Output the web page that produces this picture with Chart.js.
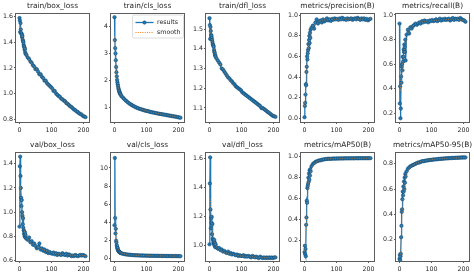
<!DOCTYPE html>
<html>
<head>
<meta charset="utf-8">
<script src="https://cdn.jsdelivr.net/npm/chart.js@4.4.1/dist/chart.umd.min.js"></script>
<style>
  html, body { margin: 0; padding: 0; background: #fff; }
  #grid { position: relative; width: 474px; height: 278px; overflow: hidden; }
  #grid canvas { position: absolute; }
</style>
</head>
<body>
<div id="grid"></div>
<script>
// epochs sampled along the x axis (every epoch early on, then every 4)
const epochs = [0, 1, 2, 3, 4, 5, 6, 7, 8, 9, 10, 11, 12, 13, 14, 15, 16, 17, 18, 19,
  22, 26, 30, 34, 38, 42, 46, 50, 54, 58,
  62, 66, 70, 74, 78, 82, 86, 90, 94, 98,
  102, 106, 110, 114, 118, 122, 126, 130, 134, 138,
  142, 146, 150, 154, 158, 162, 166, 170, 174, 178,
  182, 186, 190, 194, 198, 202, 206];
const smoothEpochs = [0, 2, 4, 6, 8, 10, 13, 16, 20, 26, 34, 45, 60, 80, 110, 140, 170, 206];

const titles = ["train/box_loss", "train/cls_loss", "train/dfl_loss", "metrics/precision(B)", "metrics/recall(B)",
  "val/box_loss", "val/cls_loss", "val/dfl_loss", "metrics/mAP50(B)", "metrics/mAP50-95(B)"];

const trainBox = [1.59, 1.57, 1.48, 1.55, 1.50, 1.47, 1.47, 1.46, 1.44, 1.45, 1.42, 1.41, 1.40, 1.38, 1.37, 1.36, 1.34, 1.35, 1.32, 1.31,
  1.30, 1.28, 1.27, 1.25, 1.24, 1.22, 1.21, 1.19, 1.19, 1.17,
  1.15, 1.15, 1.13, 1.12, 1.10, 1.10, 1.08, 1.07, 1.06, 1.05,
  1.04, 1.02, 1.02, 1.00, 0.99, 0.98, 0.975, 0.96, 0.955, 0.945,
  0.94, 0.925, 0.92, 0.91, 0.90, 0.895, 0.885, 0.875, 0.87, 0.86,
  0.855, 0.845, 0.84, 0.835, 0.825, 0.82, 0.815];
const trainCls = [4.35, 3.50, 3.20, 3.00, 2.75, 2.50, 2.30, 2.15, 2.02, 1.93, 1.85, 1.79, 1.72, 1.67, 1.62, 1.58, 1.55, 1.52, 1.49, 1.47,
  1.41, 1.36, 1.31, 1.26, 1.22, 1.18, 1.14, 1.11, 1.08, 1.05,
  1.03, 1.00, 0.98, 0.96, 0.94, 0.93, 0.91, 0.90, 0.88, 0.87,
  0.86, 0.85, 0.83, 0.82, 0.81, 0.80, 0.79, 0.78, 0.77, 0.76,
  0.75, 0.745, 0.735, 0.725, 0.72, 0.71, 0.70, 0.69, 0.685, 0.675,
  0.665, 0.66, 0.65, 0.64, 0.63, 0.62, 0.61];
const trainDfl = [1.555, 1.52, 1.45, 1.51, 1.49, 1.47, 1.465, 1.455, 1.445, 1.435, 1.425, 1.42, 1.415, 1.41, 1.395, 1.385, 1.38, 1.37, 1.365, 1.36,
  1.35, 1.34, 1.33, 1.32, 1.30, 1.295, 1.285, 1.275, 1.265, 1.255,
  1.25, 1.24, 1.235, 1.225, 1.22, 1.21, 1.205, 1.20, 1.195, 1.19,
  1.18, 1.175, 1.17, 1.165, 1.16, 1.155, 1.15, 1.145, 1.14, 1.135,
  1.13, 1.125, 1.12, 1.115, 1.11, 1.10, 1.10, 1.095, 1.09, 1.085,
  1.08, 1.075, 1.07, 1.065, 1.06, 1.058, 1.055];
const precision = [0.01, 0.12, 0.15, 0.23, 0.33, 0.32, 0.45, 0.50, 0.60, 0.57, 0.63, 0.66, 0.72, 0.68, 0.76, 0.80, 0.73, 0.83, 0.78, 0.86,
  0.88, 0.90, 0.87, 0.93, 0.96, 0.92, 0.94, 0.95, 0.93, 0.96,
  0.94, 0.95, 0.97, 0.95, 0.96, 0.945, 0.965, 0.955, 0.97, 0.96,
  0.965, 0.955, 0.97, 0.96, 0.975, 0.96, 0.965, 0.955, 0.97, 0.96,
  0.965, 0.97, 0.955, 0.965, 0.97, 0.96, 0.975, 0.965, 0.955, 0.97,
  0.96, 0.97, 0.955, 0.965, 0.95, 0.96, 0.965];
const recall = [0.93, 0.28, 0.42, 0.16, 0.24, 0.50, 0.45, 0.58, 0.60, 0.55, 0.66, 0.62, 0.66, 0.72, 0.70, 0.76, 0.74, 0.70, 0.80, 0.63,
  0.84, 0.88, 0.85, 0.90, 0.89, 0.91, 0.92, 0.93, 0.92, 0.93,
  0.94, 0.93, 0.95, 0.94, 0.955, 0.945, 0.95, 0.94, 0.955, 0.95,
  0.96, 0.95, 0.955, 0.965, 0.95, 0.96, 0.97, 0.955, 0.965, 0.96,
  0.97, 0.96, 0.965, 0.97, 0.955, 0.965, 0.975, 0.96, 0.97, 0.965,
  0.97, 0.96, 0.975, 0.965, 0.96, 0.955, 0.945];
const valBox = [0.88, 1.38, 1.46, 1.30, 1.20, 1.12, 1.05, 1.10, 1.00, 0.97, 0.90, 0.95, 0.87, 0.85, 0.82, 0.84, 0.80, 0.83, 0.79, 0.81,
  0.78, 0.77, 0.79, 0.75, 0.76, 0.73, 0.74, 0.72, 0.70, 0.71,
  0.74, 0.69, 0.70, 0.68, 0.69, 0.67, 0.68, 0.66, 0.67, 0.66,
  0.655, 0.665, 0.65, 0.66, 0.645, 0.655, 0.65, 0.645, 0.66, 0.65,
  0.645, 0.655, 0.64, 0.65, 0.645, 0.635, 0.64, 0.635, 0.645, 0.64,
  0.635, 0.64, 0.645, 0.64, 0.645, 0.64, 0.635];
const valCls = [3.7, 11.1, 4.5, 2.8, 3.3, 2.0, 1.8, 1.5, 1.3, 1.1, 1.2, 0.95, 0.90, 0.85, 0.80, 0.75, 0.72, 0.70, 0.68, 0.65,
  0.60, 0.56, 0.53, 0.50, 0.48, 0.46, 0.45, 0.43, 0.42, 0.41,
  0.40, 0.39, 0.39, 0.38, 0.37, 0.37, 0.36, 0.36, 0.35, 0.35,
  0.35, 0.34, 0.34, 0.34, 0.33, 0.33, 0.33, 0.32, 0.33, 0.32,
  0.32, 0.32, 0.31, 0.32, 0.31, 0.31, 0.31, 0.31, 0.30, 0.31,
  0.30, 0.30, 0.31, 0.30, 0.30, 0.29, 0.30];
const valDfl = [1.01, 1.43, 1.61, 1.25, 1.12, 1.19, 1.16, 1.20, 1.08, 1.15, 1.05, 1.04, 1.02, 1.03, 1.01, 1.04, 1.00, 1.02, 0.99, 1.01,
  0.99, 0.98, 0.985, 0.97, 0.975, 0.96, 0.965, 0.955, 0.95, 0.96,
  0.945, 0.95, 0.94, 0.945, 0.94, 0.935, 0.94, 0.93, 0.935, 0.93,
  0.93, 0.935, 0.925, 0.93, 0.925, 0.93, 0.925, 0.92, 0.93, 0.925,
  0.92, 0.925, 0.92, 0.915, 0.925, 0.92, 0.915, 0.92, 0.915, 0.92,
  0.915, 0.92, 0.915, 0.92, 0.915, 0.92, 0.92];
const map50 = [0.09, 0.15, 0.07, 0.12, 0.05, 0.35, 0.42, 0.58, 0.56, 0.70, 0.72, 0.74, 0.80, 0.76, 0.84, 0.78, 0.87, 0.82, 0.88, 0.86,
  0.91, 0.93, 0.94, 0.95, 0.955, 0.96, 0.965, 0.965, 0.97, 0.972,
  0.975, 0.977, 0.978, 0.98, 0.98, 0.979, 0.981, 0.982, 0.981, 0.982,
  0.983, 0.982, 0.984, 0.983, 0.984, 0.983, 0.985, 0.984, 0.984, 0.985,
  0.984, 0.985, 0.985, 0.984, 0.985, 0.986, 0.985, 0.985, 0.986, 0.985,
  0.986, 0.985, 0.986, 0.986, 0.985, 0.986, 0.986];
const map5095 = [0.05, 0.08, 0.04, 0.07, 0.09, 0.22, 0.31, 0.42, 0.44, 0.52, 0.58, 0.55, 0.62, 0.58, 0.66, 0.60, 0.69, 0.65, 0.72, 0.70,
  0.74, 0.76, 0.77, 0.78, 0.785, 0.79, 0.795, 0.80, 0.805, 0.81,
  0.81, 0.815, 0.82, 0.82, 0.822, 0.825, 0.826, 0.828, 0.83, 0.83,
  0.832, 0.833, 0.835, 0.835, 0.836, 0.838, 0.838, 0.84, 0.84, 0.841,
  0.842, 0.843, 0.843, 0.844, 0.845, 0.845, 0.846, 0.846, 0.847, 0.847,
  0.848, 0.848, 0.849, 0.849, 0.85, 0.85, 0.85];

// the dotted "smooth" trend, read at fewer epochs
const trainBoxSmooth = [1.54, 1.52, 1.50, 1.47, 1.45, 1.43, 1.39, 1.36, 1.32, 1.28, 1.25, 1.21, 1.16, 1.10, 1.01, 0.94, 0.875, 0.82];
const trainClsSmooth = [3.6, 3.25, 2.8, 2.35, 2.05, 1.87, 1.68, 1.56, 1.45, 1.36, 1.26, 1.15, 1.03, 0.94, 0.83, 0.76, 0.695, 0.61];
const trainDflSmooth = [1.52, 1.50, 1.48, 1.465, 1.445, 1.43, 1.41, 1.385, 1.36, 1.34, 1.32, 1.29, 1.25, 1.20, 1.165, 1.13, 1.095, 1.055];
const precisionSmooth = [0.12, 0.2, 0.31, 0.44, 0.55, 0.63, 0.71, 0.77, 0.83, 0.89, 0.92, 0.94, 0.955, 0.958, 0.963, 0.963, 0.964, 0.962];
const recallSmooth = [0.55, 0.45, 0.38, 0.45, 0.55, 0.62, 0.68, 0.72, 0.76, 0.85, 0.89, 0.92, 0.94, 0.948, 0.955, 0.963, 0.966, 0.955];
const valBoxSmooth = [1.2, 1.22, 1.17, 1.09, 1.02, 0.95, 0.88, 0.835, 0.81, 0.775, 0.755, 0.73, 0.705, 0.68, 0.655, 0.65, 0.642, 0.64];
const valClsSmooth = [5.2, 4.9, 3.6, 2.4, 1.7, 1.25, 0.95, 0.8, 0.68, 0.58, 0.5, 0.44, 0.4, 0.37, 0.34, 0.32, 0.31, 0.3];
const valDflSmooth = [1.3, 1.32, 1.25, 1.17, 1.12, 1.08, 1.04, 1.02, 1.0, 0.985, 0.97, 0.955, 0.945, 0.935, 0.927, 0.922, 0.918, 0.918];
const map50Smooth = [0.1, 0.13, 0.22, 0.38, 0.53, 0.65, 0.75, 0.81, 0.86, 0.915, 0.945, 0.962, 0.975, 0.981, 0.983, 0.984, 0.985, 0.986];
const map5095Smooth = [0.06, 0.08, 0.14, 0.27, 0.38, 0.48, 0.57, 0.63, 0.69, 0.745, 0.775, 0.795, 0.812, 0.826, 0.836, 0.842, 0.846, 0.85];

const results = [trainBox, trainCls, trainDfl, precision, recall, valBox, valCls, valDfl, map50, map5095];
const smooth = [trainBoxSmooth, trainClsSmooth, trainDflSmooth, precisionSmooth, recallSmooth,
  valBoxSmooth, valClsSmooth, valDflSmooth, map50Smooth, map5095Smooth];

const xTicks = [0, 100, 200];
const yTickLabels = [
  ["0.8", "1.0", "1.2", "1.4", "1.6"],
  ["1", "2", "3", "4"],
  ["1.1", "1.2", "1.3", "1.4", "1.5"],
  ["0.0", "0.2", "0.4", "0.6", "0.8", "1.0"],
  ["0.2", "0.4", "0.6", "0.8", "1.0"],
  ["0.6", "0.8", "1.0", "1.2", "1.4"],
  ["0", "2", "4", "6", "8", "10"],
  ["1.0", "1.2", "1.4", "1.6"],
  ["0.2", "0.4", "0.6", "0.8", "1.0"],
  ["0.2", "0.4", "0.6", "0.8"],
];
const yRanges = [[0.777, 1.621], [0.45, 4.47], [1.029, 1.576], [-0.036, 1.012], [0.13, 1.008],
  [0.595, 1.49], [-0.24, 11.65], [0.895, 1.64], [0.005, 1.035], [0.032, 0.885]];

const FONT = "'DejaVu Sans', sans-serif";
const BLUE = "#1f77b4";
const DARK_BLUE = "#184f76";
const ORANGE = "rgba(255,127,14,0.75)";
const INK = "#262626";
const SPINE = "#5c5c5c";

const PLOT_LEFT = [16, 111, 206, 301, 396];
const PLOT_TOP = [14, 153];
const PLOT_W = 73;
const PLOT_H = 108;
const AXIS_W = 16;
const AXIS_H = 15;
const PAD_R = 6;

const framePlugin = {
  id: "frame",
  afterDatasetsDraw(chart, args, opts) {
    const { ctx, chartArea: a } = chart;
    ctx.save();
    ctx.strokeStyle = SPINE;
    ctx.lineWidth = 1;
    ctx.strokeRect(a.left - 0.5, a.top - 0.5, a.width + 1, a.height + 1);

    ctx.fillStyle = INK;
    ctx.font = `7.4px ${FONT}`;
    ctx.textAlign = "center";
    ctx.textBaseline = "middle";
    ctx.fillText(opts.title, (a.left + a.right) / 2, a.top - 7.5);

    if (opts.legend) {
      const bw = 51, bh = 23;
      const bx = a.right - bw - 0.5, by = a.top + 1;
      ctx.fillStyle = "rgba(255,255,255,0.85)";
      ctx.strokeStyle = "#d4d4d4";
      ctx.lineWidth = 0.8;
      ctx.beginPath();
      ctx.roundRect(bx, by, bw, bh, 1.5);
      ctx.fill();
      ctx.stroke();

      ctx.strokeStyle = BLUE;
      ctx.lineWidth = 1.3;
      ctx.beginPath();
      ctx.moveTo(bx + 3, by + 7.5);
      ctx.lineTo(bx + 21, by + 7.5);
      ctx.stroke();
      ctx.fillStyle = BLUE;
      ctx.strokeStyle = DARK_BLUE;
      ctx.lineWidth = 0.6;
      ctx.beginPath();
      ctx.arc(bx + 12, by + 7.5, 1.7, 0, Math.PI * 2);
      ctx.fill();
      ctx.stroke();

      ctx.strokeStyle = "#ff7f0e";
      ctx.lineWidth = 1.1;
      ctx.setLineDash([1, 1.3]);
      ctx.beginPath();
      ctx.moveTo(bx + 3, by + 17.5);
      ctx.lineTo(bx + 21, by + 17.5);
      ctx.stroke();
      ctx.setLineDash([]);

      ctx.fillStyle = INK;
      ctx.font = `6.3px ${FONT}`;
      ctx.textAlign = "left";
      ctx.fillText("results", bx + 24.5, by + 7.5);
      ctx.fillText("smooth", bx + 24.5, by + 17.5);
    }
    ctx.restore();
  },
};

function tickStyle() {
  return {
    color: INK,
    font: { family: FONT, size: 6.3 },
    autoSkip: false,
    maxRotation: 0,
  };
}

function buildPanel(i) {
  const row = Math.floor(i / 5);
  const col = i % 5;
  const canvas = document.createElement("canvas");
  canvas.width = AXIS_W + PLOT_W + PAD_R;
  canvas.height = PLOT_TOP[0] + PLOT_H + AXIS_H;
  canvas.style.width = canvas.width + "px";
  canvas.style.height = canvas.height + "px";
  canvas.style.left = PLOT_LEFT[col] - AXIS_W + "px";
  canvas.style.top = PLOT_TOP[row] - PLOT_TOP[0] + "px";
  document.getElementById("grid").appendChild(canvas);

  const labels = yTickLabels[i];

  new Chart(canvas, {
    type: "line",
    data: {
      datasets: [
        {
          label: "smooth",
          data: smoothEpochs.map((x, k) => ({ x, y: smooth[i][k] })),
          borderColor: ORANGE,
          borderWidth: 0.8,
          borderDash: [1, 1.4],
          pointRadius: 0,
          order: 0,
        },
        {
          label: "results",
          data: epochs.map((x, k) => ({ x, y: results[i][k] })),
          borderColor: BLUE,
          borderWidth: 1.3,
          pointRadius: 1.7,
          pointBackgroundColor: BLUE,
          pointBorderColor: DARK_BLUE,
          pointBorderWidth: 0.6,
          order: 1,
        },
      ],
    },
    options: {
      responsive: false,
      animation: false,
      devicePixelRatio: 1,
      layout: { padding: { top: PLOT_TOP[0], right: PAD_R, left: 0, bottom: 0 } },
      plugins: {
        legend: { display: false },
        tooltip: { enabled: false },
        frame: { title: titles[i], legend: i === 1 },
      },
      scales: {
        x: {
          type: "linear",
          bounds: "data",
          min: -11,
          max: 217,
          afterBuildTicks: (axis) => {
            axis.ticks = xTicks.map((v) => ({ value: v }));
          },
          afterFit: (scale) => {
            scale.height = AXIS_H;
          },
          grid: { drawOnChartArea: false, tickLength: 2, color: SPINE },
          border: { display: false },
          ticks: { ...tickStyle(), padding: 2.5, callback: (v) => String(v) },
        },
        y: {
          type: "linear",
          bounds: "data",
          min: yRanges[i][0],
          max: yRanges[i][1],
          afterBuildTicks: (axis) => {
            axis.ticks = labels.map((l) => ({ value: parseFloat(l) }));
          },
          afterFit: (scale) => {
            scale.width = AXIS_W;
          },
          grid: { drawOnChartArea: false, tickLength: 2, color: SPINE },
          border: { display: false },
          ticks: { ...tickStyle(), padding: 1, callback: (v, k) => labels[k] },
        },
      },
    },
    plugins: [framePlugin],
  });
}

for (let i = 0; i < titles.length; i++) buildPanel(i);
</script>
</body>
</html>
